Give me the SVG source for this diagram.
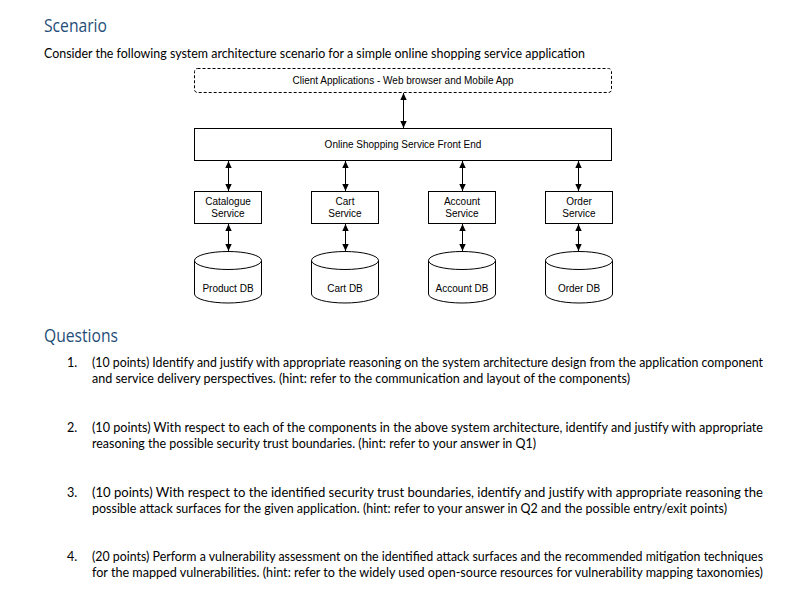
<svg xmlns="http://www.w3.org/2000/svg" width="789" height="607" viewBox="0 0 789 607">
<style>
.h{font-family:"Open Sans",Lato,sans-serif;font-size:18px;fill:#1F4E79}
.b{font-family:Lato,"Noto Sans",sans-serif;font-size:12.6px;fill:#000}
.d{font-family:"Liberation Sans",Arial,sans-serif;font-size:10px;fill:#000;text-anchor:middle}
.box{fill:#fff;stroke:#000;stroke-width:1}
.dash{fill:#fff;stroke:#000;stroke-width:1;stroke-dasharray:3 2}
.con line{stroke:#000;stroke-width:1;marker-start:url(#ah);marker-end:url(#ah)}
</style>
<defs>
<marker id="ah" viewBox="0 0 8 8" refX="7" refY="4" markerWidth="8" markerHeight="8" orient="auto-start-reverse" markerUnits="userSpaceOnUse">
<path d="M0,0.8 L7,4 L0,7.2 z" fill="#000"/>
</marker>
</defs>
<rect width="789" height="607" fill="#fff"/>
<text class="h" x="44" y="32" textLength="63" lengthAdjust="spacingAndGlyphs">Scenario</text>
<text class="b" x="44" y="58" textLength="541" lengthAdjust="spacingAndGlyphs">Consider the following system architecture scenario for a simple online shopping service application</text>

<g id="client">
<rect class="dash" x="194.5" y="68.5" width="417" height="24" rx="3"/>
<text class="d" x="403" y="84">Client Applications - Web browser and Mobile App</text>
</g>
<g id="frontend">
<rect class="box" x="194.5" y="128.5" width="417" height="32"/>
<text class="d" x="403" y="148">Online Shopping Service Front End</text>
</g>
<g id="catalogue">
<rect class="box" x="194.5" y="191.5" width="67" height="32"/>
<text class="d" x="228" y="205">Catalogue</text>
<text class="d" x="228" y="217">Service</text>
</g>
<g id="cart">
<rect class="box" x="311.5" y="191.5" width="67" height="32"/>
<text class="d" x="345" y="205">Cart</text>
<text class="d" x="345" y="217">Service</text>
</g>
<g id="account">
<rect class="box" x="428.5" y="191.5" width="67" height="32"/>
<text class="d" x="462" y="205">Account</text>
<text class="d" x="462" y="217">Service</text>
</g>
<g id="order">
<rect class="box" x="545.5" y="191.5" width="67" height="32"/>
<text class="d" x="579" y="205">Order</text>
<text class="d" x="579" y="217">Service</text>
</g>
<g id="productdb">
<path class="box" d="M194.5,260.5 A33.5,9 0 0 1 261.5,260.5 L261.5,294 A33.5,9 0 0 1 194.5,294 Z M194.5,260.5 A33.5,9 0 0 0 261.5,260.5"/>
<text class="d" x="228" y="292">Product DB</text>
</g>
<g id="cartdb">
<path class="box" d="M311.5,260.5 A33.5,9 0 0 1 378.5,260.5 L378.5,294 A33.5,9 0 0 1 311.5,294 Z M311.5,260.5 A33.5,9 0 0 0 378.5,260.5"/>
<text class="d" x="345" y="292">Cart DB</text>
</g>
<g id="accountdb">
<path class="box" d="M428.5,260.5 A33.5,9 0 0 1 495.5,260.5 L495.5,294 A33.5,9 0 0 1 428.5,294 Z M428.5,260.5 A33.5,9 0 0 0 495.5,260.5"/>
<text class="d" x="462" y="292">Account DB</text>
</g>
<g id="orderdb">
<path class="box" d="M545.5,260.5 A33.5,9 0 0 1 612.5,260.5 L612.5,294 A33.5,9 0 0 1 545.5,294 Z M545.5,260.5 A33.5,9 0 0 0 612.5,260.5"/>
<text class="d" x="579" y="292">Order DB</text>
</g>

<g id="connectors" class="con">
<line x1="403.5" y1="93" x2="403.5" y2="128"/>
<line x1="228.5" y1="161" x2="228.5" y2="191"/>
<line x1="345.5" y1="161" x2="345.5" y2="191"/>
<line x1="462.5" y1="161" x2="462.5" y2="191"/>
<line x1="578.5" y1="161" x2="578.5" y2="191"/>
<line x1="228.5" y1="224" x2="228.5" y2="251"/>
<line x1="345.5" y1="224" x2="345.5" y2="251"/>
<line x1="462.5" y1="224" x2="462.5" y2="251"/>
<line x1="578.5" y1="224" x2="578.5" y2="251"/>
</g>

<text class="h" x="44" y="342" textLength="74" lengthAdjust="spacingAndGlyphs">Questions</text>

<text class="b" x="67" y="367">1.</text>
<text class="b" x="92" y="367" textLength="671" lengthAdjust="spacingAndGlyphs">(10 points) Identify and justify with appropriate reasoning on the system architecture design from the application component</text>
<text class="b" x="92" y="383" textLength="538" lengthAdjust="spacingAndGlyphs">and service delivery perspectives. (hint: refer to the communication and layout of the components)</text>

<text class="b" x="67" y="432">2.</text>
<text class="b" x="92" y="432" textLength="671" lengthAdjust="spacingAndGlyphs">(10 points) With respect to each of the components in the above system architecture, identify and justify with appropriate</text>
<text class="b" x="92" y="448" textLength="444" lengthAdjust="spacingAndGlyphs">reasoning the possible security trust boundaries. (hint: refer to your answer in Q1)</text>

<text class="b" x="67" y="497">3.</text>
<text class="b" x="92" y="497" textLength="671" lengthAdjust="spacingAndGlyphs">(10 points) With respect to the identified security trust boundaries, identify and justify with appropriate reasoning the</text>
<text class="b" x="92" y="513" textLength="635" lengthAdjust="spacingAndGlyphs">possible attack surfaces for the given application. (hint: refer to your answer in Q2 and the possible entry/exit points)</text>

<text class="b" x="67" y="561">4.</text>
<text class="b" x="92" y="561" textLength="671" lengthAdjust="spacingAndGlyphs">(20 points) Perform a vulnerability assessment on the identified attack surfaces and the recommended mitigation techniques</text>
<text class="b" x="92" y="577" textLength="671" lengthAdjust="spacingAndGlyphs">for the mapped vulnerabilities. (hint: refer to the widely used open-source resources for vulnerability mapping taxonomies)</text>
</svg>
